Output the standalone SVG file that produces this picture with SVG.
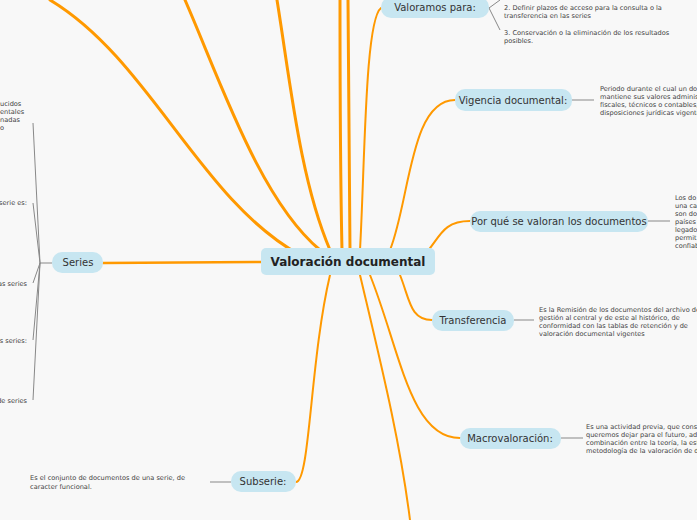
<svg xmlns="http://www.w3.org/2000/svg" width="697" height="520" viewBox="0 0 697 520">
<style>
.n{fill:#c7e6f1}
.t{font-family:"DejaVu Sans",sans-serif;font-size:10px;fill:#333}
.c{font-family:"DejaVu Sans",sans-serif;font-size:12px;font-weight:bold;fill:#222}
.s{font-family:"DejaVu Sans",sans-serif;font-size:6.6px;fill:#444}
.o{fill:none;stroke:#f90;stroke-linecap:round}
.g{fill:none;stroke:#888;stroke-width:1}
</style>
<rect width="697" height="520" fill="#f8f8f8"/>
<g id="connectors">
<path class="o" stroke-width="3" d="M300,255 C200,200 150,60 50,0"/>
<path class="o" stroke-width="3" d="M320,250 C260,200 220,80 185,0"/>
<path class="o" stroke-width="3" d="M330,250 C300,180 290,80 277,0"/>
<path class="o" stroke-width="3" d="M342,250 C340,160 340,80 340,0"/>
<path class="o" stroke-width="3" d="M350,250 C350,160 348,80 348,0"/>
<path class="o" stroke-width="2" d="M360,250 C365,160 365,20 381,8"/>
<path class="o" stroke-width="2" d="M390,250 C410,200 410,100 455,100"/>
<path class="o" stroke-width="2" d="M420,260 C440,240 440,221 470,221"/>
<path class="o" stroke-width="2" d="M400,275 C410,300 410,320 432,320"/>
<path class="o" stroke-width="2" d="M370,275 C400,350 410,438 460,438"/>
<path class="o" stroke-width="2" d="M360,275 C380,360 400,440 410,520"/>
<path class="o" stroke-width="2" d="M330,275 C310,360 310,482 296,482"/>
<path class="o" stroke-width="2.5" d="M261,262 C200,262 150,263 103,263"/>
<path class="g" stroke="#222" d="M52,263 H40"/>
<path class="g" d="M40,263 L33,123 M40,263 L33,203 M40,263 L33,283 M40,263 L33,340 M40,263 L33,400"/>
<path class="g" d="M489,8 L500,0 M489,8 L500,30"/>
<path class="g" d="M572,100 H594"/>
<path class="g" d="M648,221 H670"/>
<path class="g" d="M514,320 H534"/>
<path class="g" d="M561,438 H583"/>
<path class="g" d="M231,482 H210"/>
</g>
<g id="center"><rect class="n" x="261" y="248" width="174" height="27" rx="5"/><text class="c" x="348" y="266" text-anchor="middle">Valoración documental</text></g>
<g id="valoramos"><rect class="n" x="381" y="-3" width="108" height="21" rx="10"/><text class="t" x="435" y="11" text-anchor="middle">Valoramos para:</text>
<text class="s" x="504" y="10">2. Definir plazos de acceso para la consulta o la</text><text class="s" x="504" y="18">transferencia en las series</text>
<text class="s" x="504" y="35">3. Conservación o la eliminación de los resultados</text><text class="s" x="504" y="43">posibles.</text></g>
<g id="vigencia"><rect class="n" x="455" y="89" width="117" height="22" rx="10"/><text class="t" x="513" y="104" text-anchor="middle">Vigencia documental:</text>
<text class="s" x="600" y="91">Periodo durante el cual un documento</text><text class="s" x="600" y="99">mantiene sus valores administrativos,</text><text class="s" x="600" y="107">fiscales, técnicos o contables, según</text><text class="s" x="600" y="115">disposiciones jurídicas vigentes</text></g>
<g id="porque"><rect class="n" x="470" y="211" width="178" height="21" rx="10"/><text class="t" x="559" y="225" text-anchor="middle">Por qué se valoran los documentos</text>
<text class="s" x="675" y="200">Los do</text><text class="s" x="675" y="208">una ca</text><text class="s" x="675" y="216">son do</text><text class="s" x="675" y="224">países</text><text class="s" x="675" y="232">legado</text><text class="s" x="675" y="240">permit</text><text class="s" x="675" y="248">confiab</text></g>
<g id="transferencia"><rect class="n" x="432" y="310" width="82" height="21" rx="10"/><text class="t" x="473" y="324" text-anchor="middle">Transferencia</text>
<text class="s" x="539" y="312">Es la Remisión de los documentos del archivo de</text><text class="s" x="539" y="320">gestión al central y de este al histórico, de</text><text class="s" x="539" y="328">conformidad con las tablas de retención y de</text><text class="s" x="539" y="336">valoración documental vigentes</text></g>
<g id="macro"><rect class="n" x="460" y="428" width="101" height="21" rx="10"/><text class="t" x="510" y="442" text-anchor="middle">Macrovaloración:</text>
<text class="s" x="586" y="429">Es una actividad previa, que consiste en</text><text class="s" x="586" y="437">queremos dejar para el futuro, además</text><text class="s" x="586" y="445">combinación entre la teoría, la estrategia</text><text class="s" x="586" y="453">metodología de la valoración de documentos</text></g>
<g id="subserie"><rect class="n" x="231" y="471" width="65" height="21" rx="10"/><text class="t" x="263" y="485" text-anchor="middle">Subserie:</text>
<text class="s" x="30" y="480">Es el conjunto de documentos de una serie, de</text><text class="s" x="30" y="489">caracter funcional.</text></g>
<g id="series"><rect class="n" x="52" y="252" width="51" height="21" rx="10"/><text class="t" x="78" y="266" text-anchor="middle">Series</text>
<text class="s" x="0" y="106">ucidos</text><text class="s" x="0" y="114">entales</text><text class="s" x="0" y="122">nadas</text><text class="s" x="0" y="130">o</text>
<text class="s" x="27" y="205" text-anchor="end">serie es:</text>
<text class="s" x="27" y="286" text-anchor="end">as series</text>
<text class="s" x="27" y="343" text-anchor="end">s series:</text>
<text class="s" x="27" y="403" text-anchor="end">de series</text></g>
</svg>
